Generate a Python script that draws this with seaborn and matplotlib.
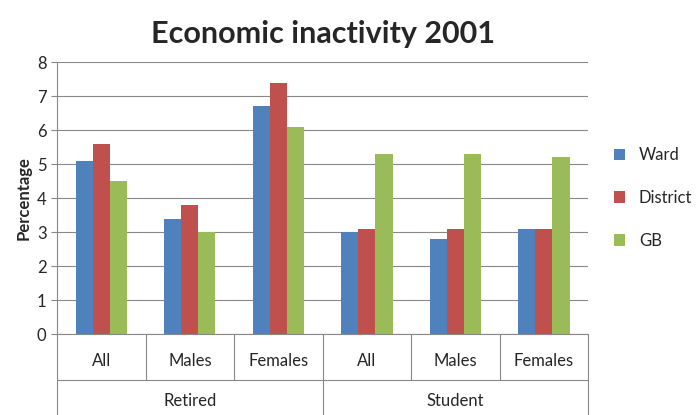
import matplotlib
matplotlib.use("Agg")
import matplotlib.pyplot as plt
import matplotlib.transforms as mtrans
import seaborn as sns
import pandas as pd

groups = ["Retired", "Retired", "Retired", "Student", "Student", "Student"]
subcats = ["All", "Males", "Females", "All", "Males", "Females"]
series = ["Ward", "District", "GB"]
ward = [5.1, 3.4, 6.7, 3.0, 2.8, 3.1]
district = [5.6, 3.8, 7.4, 3.1, 3.1, 3.1]
gb = [4.5, 3.0, 6.1, 5.3, 5.3, 5.2]
colors = ["#4F81BD", "#C0504D", "#9BBB59"]

rows = []
for i in range(6):
    for s, vals in zip(series, [ward, district, gb]):
        rows.append({"cat": i, "series": s, "value": vals[i]})
df = pd.DataFrame(rows)

sns.set_style("white")
plt.rcParams['font.family'] = ['Lato', 'DejaVu Sans']
fig = plt.figure(figsize=(6.98, 4.15), dpi=100)
ax = fig.add_axes([0.0817, 0.195, 0.761, 0.655])
sns.barplot(data=df, x="cat", y="value", hue="series", palette=colors,
            width=0.58, ax=ax, saturation=1, linewidth=0)
ax.set_ylim(0, 8)
ax.set_xlim(-0.5, 5.5)
ax.set_yticks(range(9))
ax.tick_params(axis='y', labelsize=12, length=4, color="#888888", direction="out", left=True)
ax.yaxis.grid(True, color="#888888", linewidth=0.8)
ax.set_axisbelow(True)
for side in ["top", "right"]:
    ax.spines[side].set_visible(False)
for side in ["left", "bottom"]:
    ax.spines[side].set_color("#888888")
ax.set_xticks([])
ax.set_xlabel("")
ax.set_ylabel("Percentage", fontsize=12, fontweight="bold")
ax.set_title("Economic inactivity 2001", fontsize=22, fontweight="bold", pad=14)

tr = mtrans.blended_transform_factory(ax.transData, ax.transAxes)
for i, lab in enumerate(subcats):
    ax.text(i, -0.1, lab, transform=tr, ha="center", va="center", fontsize=12)
for b in [0.5, 1.5, 3.5, 4.5]:
    ax.plot([b, b], [0, -0.169], transform=tr, color="#888888", lw=0.8, clip_on=False)
for b in [-0.5, 2.5, 5.5]:
    ax.plot([b, b], [0, -0.30], transform=tr, color="#888888", lw=0.8, clip_on=False)
ax.plot([-0.5, 5.5], [-0.169, -0.169], transform=tr, color="#888888", lw=0.8, clip_on=False)
ax.text(1, -0.245, "Retired", transform=tr, ha="center", va="center", fontsize=12)
ax.text(4, -0.245, "Student", transform=tr, ha="center", va="center", fontsize=12)

ax.legend(loc="center left", bbox_to_anchor=(1.02, 0.5), frameon=False,
          fontsize=12, handlelength=0.7, handleheight=0.7, labelspacing=1.6)
fig.savefig("out.png", dpi=100)
